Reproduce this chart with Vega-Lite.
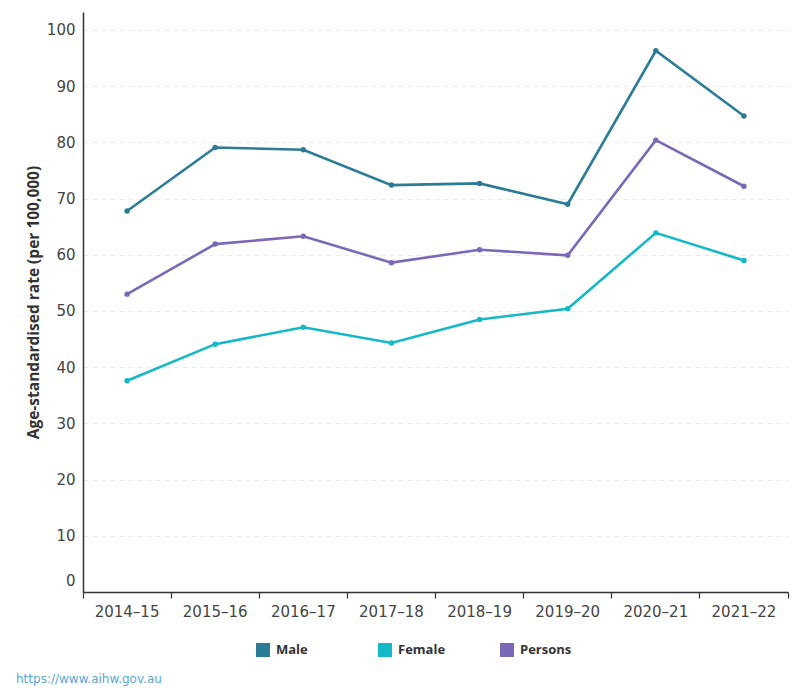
{
  "$schema": "https://vega.github.io/schema/vega-lite/v6.json",
  "width": 705,
  "height": 580,
  "autosize": {"type": "none"},
  "padding": {"left": 83, "top": 12, "right": 12, "bottom": 108},
  "background": "white",
  "config": {
    "view": {"stroke": null},
    "font": "DejaVu Sans"
  },
  "title": {
    "text": "https://www.aihw.gov.au",
    "orient": "bottom",
    "anchor": "start",
    "frame": "bounds",
    "offset": 17,
    "dx": -10,
    "font": "DejaVu Sans",
    "fontSize": 12,
    "fontWeight": "normal",
    "color": "#5aa6d6"
  },
  "data": {
    "values": [
      {"year": "2014–15", "sex": "Male", "rate": 67.8},
      {"year": "2015–16", "sex": "Male", "rate": 79.1},
      {"year": "2016–17", "sex": "Male", "rate": 78.7},
      {"year": "2017–18", "sex": "Male", "rate": 72.4},
      {"year": "2018–19", "sex": "Male", "rate": 72.7},
      {"year": "2019–20", "sex": "Male", "rate": 69.0},
      {"year": "2020–21", "sex": "Male", "rate": 96.3},
      {"year": "2021–22", "sex": "Male", "rate": 84.7},
      {"year": "2014–15", "sex": "Female", "rate": 37.6},
      {"year": "2015–16", "sex": "Female", "rate": 44.1},
      {"year": "2016–17", "sex": "Female", "rate": 47.1},
      {"year": "2017–18", "sex": "Female", "rate": 44.3},
      {"year": "2018–19", "sex": "Female", "rate": 48.5},
      {"year": "2019–20", "sex": "Female", "rate": 50.4},
      {"year": "2020–21", "sex": "Female", "rate": 63.9},
      {"year": "2021–22", "sex": "Female", "rate": 59.0},
      {"year": "2014–15", "sex": "Persons", "rate": 53.0},
      {"year": "2015–16", "sex": "Persons", "rate": 61.9},
      {"year": "2016–17", "sex": "Persons", "rate": 63.3},
      {"year": "2017–18", "sex": "Persons", "rate": 58.6},
      {"year": "2018–19", "sex": "Persons", "rate": 60.9},
      {"year": "2019–20", "sex": "Persons", "rate": 59.9},
      {"year": "2020–21", "sex": "Persons", "rate": 80.4},
      {"year": "2021–22", "sex": "Persons", "rate": 72.2}
    ]
  },
  "mark": {
    "type": "line",
    "strokeWidth": 2.6,
    "point": {"filled": true, "size": 30}
  },
  "encoding": {
    "x": {
      "field": "year",
      "type": "ordinal",
      "title": null,
      "scale": {"type": "band", "paddingInner": 0, "paddingOuter": 0},
      "axis": {
        "labelAngle": 0,
        "labelFont": "DejaVu Sans",
        "labelFontSize": 15,
        "labelColor": "#444444",
        "labelPadding": 6,
        "bandPosition": 1,
        "tickExtra": true,
        "tickSize": 6,
        "tickColor": "#333333",
        "tickWidth": 1.2,
        "domainColor": "#333333",
        "domainWidth": 1.5,
        "grid": false
      }
    },
    "y": {
      "field": "rate",
      "type": "quantitative",
      "title": "Age-standardised rate (per 100,000)",
      "scale": {"domain": [0, 103.2], "nice": false, "zero": true},
      "axis": {
        "values": [0, 10, 20, 30, 40, 50, 60, 70, 80, 90, 100],
        "ticks": false,
        "labelFont": "DejaVu Sans",
        "labelFontSize": 15,
        "labelColor": "#444444",
        "labelPadding": 8,
        "labelOffset": {"condition": {"test": "datum.value === 0", "value": -12}, "value": 0},
        "domainColor": "#333333",
        "domainWidth": 1.5,
        "grid": true,
        "gridColor": "#ebebeb",
        "gridDash": [5, 4],
        "gridWidth": 1,
        "titleFont": "Open Sans",
        "titleFontSize": 15.5,
        "titleFontWeight": "bold",
        "titleColor": "#333333",
        "titleX": -50,
        "titleY": 290,
        "titleAlign": "center",
        "titleBaseline": "middle",
        "titleAngle": -90
      }
    },
    "color": {
      "field": "sex",
      "type": "nominal",
      "sort": ["Male", "Female", "Persons"],
      "scale": {
        "domain": ["Male", "Female", "Persons"],
        "range": ["#2c7c96", "#14b8c6", "#7b68b7"]
      },
      "legend": {
        "title": null,
        "orient": "none",
        "direction": "horizontal",
        "legendX": 173,
        "legendY": 631,
        "symbolType": "square",
        "symbolSize": 196,
        "symbolStrokeWidth": 0,
        "symbolOpacity": 1,
        "labelFont": "Open Sans",
        "labelFontSize": 13,
        "labelFontWeight": "bold",
        "labelColor": "#333333",
        "labelOffset": 6,
        "gridAlign": "all",
        "columnPadding": 50
      }
    }
  }
}
